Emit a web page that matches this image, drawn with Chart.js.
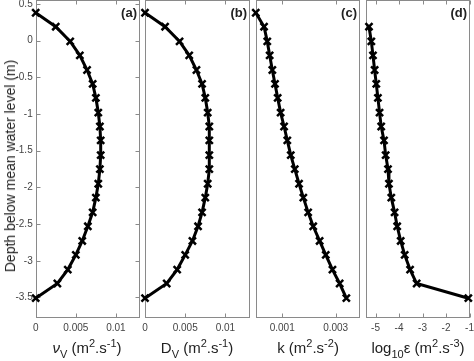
<!DOCTYPE html>
<html>
<head>
<meta charset="utf-8">
<script src="https://cdn.jsdelivr.net/npm/chart.js@4.4.1/dist/chart.umd.min.js"></script>
<style>
  body { margin: 0; background: #fff; }
  #wrap { position: relative; width: 474px; height: 361px; overflow: hidden; font-family: "Liberation Sans", Arial, sans-serif; color: #222; }
  canvas { position: absolute; left: 0; top: 0; }
  .lbl { position: absolute; top: 5px; font-weight: bold; font-size: 13px; line-height: 15px; }
  .xt { position: absolute; top: 340px; font-size: 15px; line-height: 15px; white-space: nowrap; transform: translateX(-50%); }
  .xt .up { position: relative; top: -6px; font-size: 11px; }
  .xt .dn { position: relative; top: 5px; font-size: 11px; }
  .yt { position: absolute; left: 10px; top: 166px; font-size: 14px; white-space: nowrap; transform: translate(-50%, -50%) rotate(-90deg); }
</style>
</head>
<body>
<div id="wrap">
  <canvas id="pa" width="474" height="361"></canvas>
  <canvas id="pb" width="474" height="361"></canvas>
  <canvas id="pc" width="474" height="361"></canvas>
  <canvas id="pd" width="474" height="361"></canvas>

  <div class="yt">Depth below mean water level (m)</div>
  <div class="lbl" style="right:337px">(a)</div>
  <div class="lbl" style="right:227px">(b)</div>
  <div class="lbl" style="right:117px">(c)</div>
  <div class="lbl" style="right:7px">(d)</div>

  <div class="xt" style="left:87px"><i>ν</i><span class="dn">V</span> (m<span class="up">2</span>.s<span class="up">-1</span>)</div>
  <div class="xt" style="left:197px">D<span class="dn">V</span> (m<span class="up">2</span>.s<span class="up">-1</span>)</div>
  <div class="xt" style="left:308px">k (m<span class="up">2</span>.s<span class="up">-2</span>)</div>
  <div class="xt" style="left:418px">log<span class="dn">10</span>ε (m<span class="up">2</span>.s<span class="up">-3</span>)</div>
</div>

<script>
// profondeur des points (m)
const depth = [0.38, 0.19, -0.01, -0.20, -0.40, -0.59, -0.78, -0.98, -1.17, -1.36, -1.56,
    -1.75, -1.95, -2.14, -2.34, -2.53, -2.73, -2.92, -3.12, -3.31, -3.51]
const depthEps = depth.slice(1)

const nuV = [0, 0.0025, 0.0043, 0.0055, 0.0064, 0.0071, 0.0075, 0.0078, 0.0080, 0.0081, 0.0081,
    0.0080, 0.0078, 0.0075, 0.0071, 0.0065, 0.0058, 0.0050, 0.0040, 0.0027, 0]
const dV = [0, 0.0025, 0.0043, 0.0055, 0.0064, 0.0071, 0.0075, 0.0078, 0.0080, 0.0080, 0.0080,
    0.0080, 0.0078, 0.0075, 0.0071, 0.0066, 0.0059, 0.0050, 0.0040, 0.0027, 0]
const kTke = [0.00001, 0.00032, 0.00044, 0.00053, 0.00063, 0.00073, 0.00083, 0.00094, 0.00107, 0.00119, 0.00132,
    0.00147, 0.00163, 0.00179, 0.00197, 0.00216, 0.0024, 0.00263, 0.00288, 0.00315, 0.0034]
const logEps = [-5.28, -5.18, -5.11, -5.04, -4.97, -4.90, -4.83, -4.76, -4.64, -4.57,
    -4.47, -4.43, -4.33, -4.19, -4.08, -3.93, -3.76, -3.53, -3.25, -1.05]

const yTicks = [-3.5, -3, -2.5, -2, -1.5, -1, -0.5, 0, 0.5]
const xTicksV = [0, 0.005, 0.01]
const xTicksK = [0.001, 0.003]
const xTicksE = [-5, -4, -3, -2, -1]

const grisCadre = '#8a8a8a'
const fuente = { family: 'Liberation Sans', size: 10 }

const cadre = {
    id: 'cadre',
    beforeDatasetsDraw(chart, args, opts) {
        const { ctx, chartArea: a } = chart
        const L = Math.round(a.left) + 0.5, R = Math.round(a.right) - 0.5
        const T = Math.round(a.top) + 0.5, B = Math.round(a.bottom) - 0.5
        ctx.save()
        ctx.strokeStyle = grisCadre
        ctx.lineWidth = 1
        ctx.strokeRect(L, T, R - L, B - T)
        ctx.beginPath()
        chart.scales.x.ticks.forEach(t => {
            const px = Math.round(chart.scales.x.getPixelForValue(t.value)) + 0.5
            ctx.moveTo(px, B); ctx.lineTo(px, B - 4)
            ctx.moveTo(px, T); ctx.lineTo(px, T + 4)
        })
        if (opts.yTicks) {
            yTicks.forEach(v => {
                const py = Math.round(chart.scales.y.getPixelForValue(v)) + 0.5
                ctx.moveTo(L, py); ctx.lineTo(L + 4, py)
                ctx.moveTo(R, py); ctx.lineTo(R - 4, py)
            })
        }
        ctx.stroke()
        ctx.restore()
    }
}

const dibujarPanel = (id, xs, ys, xMin, xMax, xTicks, etiqueta, left, right, conY) => {
    let puntos = xs.map((v, i) => ({ x: v, y: ys[i] }))
    new Chart(document.getElementById(id), {
        type: 'scatter',
        data: {
            datasets: [{
                data: puntos,
                showLine: true,
                borderColor: '#000',
                borderWidth: 3,
                pointStyle: 'crossRot',
                pointRadius: 5,
                pointBorderWidth: 2.5,
                pointBorderColor: '#000',
                pointBackgroundColor: '#000',
                clip: false
            }]
        },
        options: {
            responsive: false,
            animation: false,
            events: [],
            layout: { autoPadding: false, padding: { left: left, right: right, top: 0.3, bottom: 23 } },
            plugins: { legend: { display: false }, tooltip: { enabled: false }, cadre: { yTicks: conY } },
            scales: {
                x: {
                    type: 'linear', min: xMin, max: xMax,
                    afterBuildTicks: s => { s.ticks = xTicks.map(v => ({ value: v })) },
                    ticks: { font: fuente, color: '#444', padding: 4, maxRotation: 0, autoSkip: false, callback: etiqueta },
                    grid: { display: false, drawTicks: false },
                    border: { display: false },
                    afterFit: s => { s.height = 20; s.paddingLeft = 0; s.paddingRight = 0 }
                },
                y: {
                    type: 'linear', min: -3.78, max: 0.55,
                    display: conY,
                    afterBuildTicks: s => { s.ticks = yTicks.map(v => ({ value: v })) },
                    ticks: { font: fuente, color: '#444', padding: 3, autoSkip: false, callback: v => String(v) },
                    grid: { display: false, drawTicks: false },
                    border: { display: false },
                    afterFit: s => { s.width = conY ? 24 : 0; s.paddingTop = 0; s.paddingBottom = 0 }
                }
            }
        },
        plugins: [cadre]
    })
}

dibujarPanel('pa', nuV, depth, 0, 0.013, xTicksV, v => String(v), 11.7, 334, true)
dibujarPanel('pb', dV, depth, 0, 0.013, xTicksV, v => String(v), 145, 224.5, false)
dibujarPanel('pc', kTke, depth, 0, 0.0039, xTicksK, v => String(v), 255.5, 114.3, false)
dibujarPanel('pd', logEps, depthEps, -5.42, -1, xTicksE, v => String(v), 365.7, 4.5, false)
</script>
</body>
</html>
